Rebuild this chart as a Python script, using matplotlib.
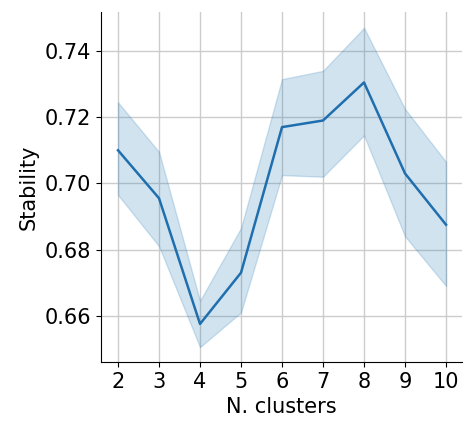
import matplotlib
matplotlib.use("Agg")
import matplotlib.pyplot as plt

clusters = [2, 3, 4, 5, 6, 7, 8, 9, 10]
mean = [0.710, 0.6955, 0.6575, 0.673, 0.717, 0.719, 0.7305, 0.703, 0.6875]
upper = [0.7245, 0.7095, 0.6645, 0.6865, 0.7315, 0.734, 0.747, 0.7225, 0.7065]
lower = [0.6965, 0.681, 0.6505, 0.661, 0.7025, 0.702, 0.7145, 0.684, 0.669]

fig = plt.figure(figsize=(4.74, 4.36), dpi=100)
ax = fig.add_axes([101/474, 74/436, 361/474, 350/436])
ax.fill_between(clusters, lower, upper, color="#1f77b4", alpha=0.2)
ax.plot(clusters, mean, color="#1f6fae", lw=1.8)
ax.set_xlim(1.585, 10.39)
ax.set_ylim(0.646, 0.7518)
ax.set_xticks(clusters)
ax.set_yticks([0.66, 0.68, 0.70, 0.72, 0.74])
ax.grid(True, color="#cccccc", lw=1)
ax.set_axisbelow(True)
for s in ["top", "right"]:
    ax.spines[s].set_visible(False)
ax.tick_params(labelsize=15)
ax.set_xlabel("N. clusters", fontsize=15)
ax.set_ylabel("Stability", fontsize=15)
fig.savefig("out.png", dpi=100)
